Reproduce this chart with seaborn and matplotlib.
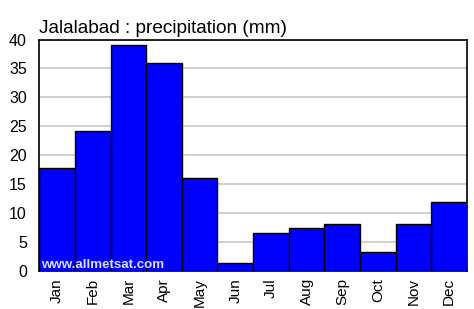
import matplotlib
matplotlib.use("Agg")
import matplotlib.pyplot as plt
import pandas as pd
import seaborn as sns

months = ["Jan", "Feb", "Mar", "Apr", "May", "Jun",
          "Jul", "Aug", "Sep", "Oct", "Nov", "Dec"]
precip = [17.8, 24.2, 39.0, 36.0, 16.0, 1.3, 6.6, 7.4, 8.2, 3.2, 8.2, 11.9]
yticks = [0, 5, 10, 15, 20, 25, 30, 35, 40]

df = pd.DataFrame({"month": months, "precip": precip})

sns.set_style("white")
plt.rcParams["font.family"] = ["Liberation Sans", "DejaVu Sans"]
plt.rcParams["text.color"] = "black"
plt.rcParams["xtick.color"] = "black"
plt.rcParams["ytick.color"] = "black"

fig = plt.figure(figsize=(4.74, 3.09), dpi=100)
ax = fig.add_axes([0.083, 0.123, 0.902, 0.749])

sns.barplot(data=df, x="month", y="precip", color="#0000ff", saturation=1,
            width=1.0, edgecolor="black", linewidth=1.0, ax=ax, zorder=3)

ax.set_ylim(0, 40)
ax.set_xlim(-0.5, 11.5)
ax.set_yticks(yticks)
ax.set_yticklabels([str(v) for v in yticks], fontsize=11.5)
ax.yaxis.grid(True, color="#c8c8c8", linewidth=1.2, zorder=0)
ax.set_axisbelow(True)
ax.tick_params(axis="x", labelrotation=90, labelsize=11, length=0, pad=5)
ax.tick_params(axis="y", length=0, pad=9)
ax.set_xlabel("")
ax.set_ylabel("")
for s in ax.spines.values():
    s.set_color("black")
    s.set_linewidth(1.2)

ax.set_title("Jalalabad : precipitation (mm)", fontsize=13.7, loc="left", pad=5)
ax.text(0.003, 0.012, "www.allmetsat.com", transform=ax.transAxes,
        color="#dcdcff", fontsize=9.6, fontweight="bold", zorder=5)

fig.savefig("out.png", dpi=100)
